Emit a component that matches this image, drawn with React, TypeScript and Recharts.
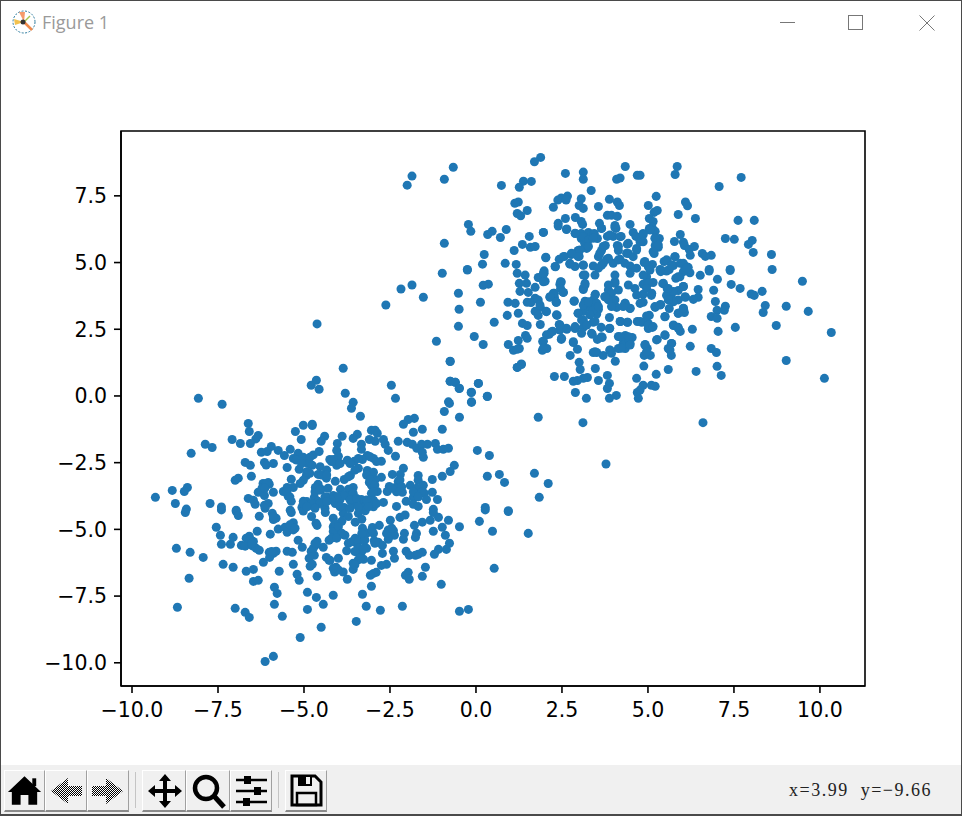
import React from 'react';
import { ScatterChart, Scatter, XAxis, YAxis, ZAxis, ReferenceArea } from 'recharts';

// points, [x, y]
const upperCluster: [number, number][] = [
  [1.88,8.94],[1.70,8.78],[-0.66,8.57],[-0.92,8.12],[4.34,8.60],[2.60,8.34],[3.12,8.39],[3.12,8.12],[4.69,8.27],[4.19,8.17],
  [4.09,8.12],[0.74,7.89],[1.38,8.05],[1.61,8.04],[1.26,7.82],[3.35,7.70],[2.66,7.49],[2.48,7.42],[2.38,7.34],[2.62,7.34],
  [3.06,7.39],[3.88,7.37],[4.11,7.27],[4.17,7.14],[1.23,7.27],[1.13,7.22],[2.25,7.07],[3.0,7.14],[3.12,7.03],[3.56,7.10],
  [1.49,6.95],[1.20,6.84],[1.30,6.75],[2.39,6.47],[2.60,6.65],[2.89,6.69],[3.06,6.54],[3.10,6.43],[3.82,6.77],[3.94,6.77],
  [4.11,6.73],[-0.22,6.43],[-0.15,6.17],[3.59,6.47],[3.65,6.28],[4.04,6.39],[4.07,6.28],[4.48,6.43],[0.88,6.24],[0.47,6.17],
  [0.34,6.05],[0.71,5.94],[1.96,6.13],[2.63,6.24],[2.89,6.09],[3.06,6.09],[3.27,6.13],[3.44,6.09],[3.53,5.90],[3.06,5.90],
  [1.55,5.98],[3.82,5.98],[3.99,5.98],[4.22,5.98],[4.57,6.13],[4.65,5.98],[-0.92,5.72],[1.35,5.68],[1.58,5.57],[1.72,5.60],
  [1.11,5.45],[0.24,5.30],[3.16,5.72],[3.22,5.53],[3.76,5.64],[3.65,5.45],[4.11,5.64],[4.14,5.45],[4.40,5.69],[4.67,5.53],
  [2.97,5.45],[4.43,5.34],[2.03,5.18],[2.42,5.12],[2.57,5.23],[2.77,5.30],[3.0,5.23],[3.56,5.22],[4.57,5.22],[0.19,4.94],
  [0.85,4.97],[1.17,4.93],[-0.25,4.74],[2.31,4.84],[2.73,4.94],[3.12,4.90],[3.41,4.87],[3.80,5.12],[4.19,5.12],[3.65,4.90],
  [3.99,4.97],[4.48,4.87],[1.98,4.69],
  [5.85,8.60],[5.79,8.30],[7.71,8.19],[7.07,7.85],[4.77,8.27],[5.24,7.48],[5.01,7.14],[6.09,7.27],[6.15,7.13],[5.27,6.95],
  [5.18,6.88],[5.88,6.80],[6.38,6.65],[5.04,6.65],[5.15,6.54],[7.62,6.58],[8.09,6.58],[5.12,6.32],[5.04,6.28],[5.21,6.17],
  [4.86,6.09],[5.94,6.05],[5.33,5.90],[7.25,5.90],[7.51,5.87],[5.77,5.79],[6.03,5.76],[8.03,5.83],[7.92,5.68],[4.86,5.78],
  [6.06,5.64],[6.35,5.60],[5.30,5.57],[5.21,5.64],[6.20,5.49],[8.06,5.38],[8.59,5.30],[5.18,5.34],[6.58,5.34],[6.84,5.27],
  [6.67,5.23],[6.23,5.27],[5.79,5.22],[5.56,5.08],[5.47,5.04],[4.89,5.0],[5.13,4.93],[5.74,4.89],[5.94,4.97],[6.06,4.89],
  [6.17,4.82],[5.36,4.74],[6.78,4.74],[7.39,4.74],[8.61,4.74],[5.62,4.74],[5.01,4.84],
  [-0.98,4.60],[-0.25,4.72],[1.20,4.60],[1.43,4.53],[1.81,4.44],[1.98,4.60],[3.12,4.53],[2.01,4.30],[0.36,4.19],[0.21,4.15],
  [1.26,4.22],[1.47,4.22],[1.72,4.07],[2.48,4.27],[2.44,4.19],[3.17,4.16],[3.12,3.99],[-0.51,3.85],[-1.53,3.70],[1.28,3.92],
  [1.52,3.88],[2.54,3.88],[2.28,3.85],[2.15,3.70],[2.28,3.70],[3.47,3.81],[3.75,3.72],[3.85,3.97],[4.04,4.28],[1.72,3.66],
  [0.13,3.51],[0.93,3.51],[1.14,3.47],[1.49,3.51],[1.60,3.50],[1.81,3.60],[2.33,3.51],[2.85,3.55],[3.17,3.55],[3.41,3.60],
  [3.51,3.47],[3.94,3.66],[3.99,3.47],[4.34,3.47],[4.48,3.28],[-0.49,3.25],[1.87,3.32],[2.04,3.17],[1.72,3.17],[1.81,3.02],
  [0.91,3.02],[1.23,3.10],[2.36,3.02],[2.97,3.10],[3.12,3.17],[3.31,3.32],[3.56,3.25],[3.51,3.07],[4.09,3.32],[3.88,2.94],
  [0.53,2.76],[1.35,2.72],[1.49,2.64],[1.87,2.68],[-0.51,2.61],[2.42,2.68],[3.12,2.85],[3.41,2.76],[4.20,2.79],[4.40,2.76],
  [4.69,2.79],[3.88,2.53],[3.64,2.57],[3.12,2.57],[2.88,2.53],[2.64,2.50],[2.44,2.47],[2.23,2.42],[2.13,2.31],[2.48,2.12],
  [-0.05,2.23],[1.44,2.27],[1.49,2.16],[3.38,2.31],[3.53,2.12],[3.67,2.19],[4.14,2.23],[4.34,2.27],[4.54,2.19],[-1.15,2.05],
  [0.21,1.93],[1.23,2.08],[0.94,1.93],[1.96,2.05],[2.83,2.0],[4.28,1.97],[4.48,1.97],[4.43,2.16],[1.26,1.78],[1.09,1.71],
  [1.20,1.75],[2.06,1.78],[1.93,1.71],[2.95,1.75],[3.41,1.63],[3.51,1.63],[3.70,1.52],[3.90,1.71],[3.94,1.60],[4.14,1.78],
  [4.34,1.78],[2.74,1.52],[-0.75,1.30],[3.0,1.26],[4.05,1.30],[1.32,1.18],[1.20,1.07],[3.03,0.99],[3.47,1.03],[2.28,0.73],
  [2.57,0.73],[3.82,0.77],[4.67,0.66],[3.24,0.69],[3.12,0.66],[2.95,0.58],[2.83,0.55],[3.56,0.58],[-0.75,0.55],[-0.6,0.51],
  [0.07,0.47],[-0.49,0.28],[3.88,0.47],[3.82,0.28],[-0.14,0.13],[2.89,0.13],[0.33,-0.02],[4.08,0.02],[4.69,0.13],[3.88,-0.09],
  [3.21,-0.09],[4.72,-0.09],[-0.8,-0.22],[-0.13,-0.22],
  [5.37,4.66],[5.54,4.68],[5.93,4.47],[5.81,4.41],[6.22,4.62],[6.03,4.66],[6.52,4.52],[6.78,4.68],[7.02,4.37],[7.39,4.70],
  [9.49,4.30],[4.96,4.47],[5.01,4.25],[5.15,4.25],[4.86,4.19],[5.43,4.21],[5.56,4.02],[6.03,4.10],[5.88,3.95],[6.46,3.99],
  [6.91,3.96],[7.42,4.18],[7.68,4.03],[8.0,3.82],[8.09,3.77],[8.32,3.92],[4.86,3.81],[5.10,3.77],[5.54,3.77],[5.68,3.70],
  [5.88,3.60],[6.09,3.70],[6.46,3.70],[6.32,3.62],[5.74,3.53],[4.86,3.51],[6.96,3.54],[8.41,3.39],[9.02,3.36],[7.25,3.36],
  [5.37,3.43],[5.21,3.32],[5.62,3.28],[7.01,3.21],[7.22,3.21],[9.66,3.17],[8.35,3.13],[6.03,3.28],[6.06,3.13],[5.88,3.10],
  [5.04,3.02],[5.50,2.98],[6.84,2.98],[7.01,2.91],[8.73,2.64],[7.54,2.57],[5.74,2.64],[5.88,2.57],[5.94,2.42],[6.29,2.50],
  [4.82,2.76],[5.01,2.72],[5.01,2.53],[5.13,2.57],[7.04,2.42],[10.33,2.38],[5.50,2.27],[5.27,2.12],[4.92,1.93],[5.68,1.97],
  [4.98,1.78],[5.59,1.78],[6.23,1.86],[6.84,1.78],[6.99,1.63],[5.68,1.52],[5.07,1.52],[4.89,1.52],[9.02,1.33],[4.88,1.12],
  [7.01,1.11],[5.59,0.99],[6.40,0.92],[5.24,0.81],[7.13,0.77],[10.13,0.66],[5.10,0.40],[5.21,0.36],[4.86,0.40],[4.77,0.22],
];

// the crowded middle of the upper blob
const upperCore: [number, number][] = [
  [3.12,5.97],[3.27,5.85],[3.41,5.91],[3.27,5.60],[3.02,5.47],[2.78,5.35],[2.54,5.22],[2.97,5.22],[3.70,5.60],[3.60,5.35],
  [3.85,5.16],[4.14,5.60],[4.43,5.72],[4.67,5.47],[4.38,5.35],[3.89,6.03],[4.19,5.97],[4.77,5.78],[5.06,6.22],[5.20,5.91],
  [5.30,5.66],[5.15,5.41],[4.86,6.04],[5.54,5.10],[5.78,5.22],[6.03,4.97],[5.35,4.72],[5.69,4.91],[6.12,4.79],[5.88,4.47],
  [6.03,4.10],[4.91,5.04],[4.67,4.79],[5.06,4.72],[4.86,4.53],[4.48,4.60],[4.33,4.97],[4.14,5.10],[3.70,4.97],[3.56,4.79],
  [3.46,4.53],[3.12,4.91],[3.17,4.53],[2.88,4.85],[2.73,4.97],[4.04,4.53],[4.04,4.22],[3.85,4.16],[4.14,3.97],[3.94,3.85],
  [4.04,3.60],[3.85,3.60],[3.94,3.35],[3.75,3.72],[3.46,3.78],[3.12,4.03],[3.17,4.22],[4.43,4.16],[4.62,4.03],[4.67,3.78],
  [5.01,4.22],[4.96,4.03],[5.11,3.85],[4.77,3.47],[4.33,3.47],[4.48,3.29],[4.28,3.35],[3.12,3.41],[2.97,3.10],[3.07,2.85],
  [3.27,3.53],[3.41,3.22],[3.56,3.35],[3.31,3.04],[3.46,2.79],[3.22,2.66],[2.88,2.60],[2.63,2.54],[2.44,2.66],[3.07,2.35],
  [3.36,2.35],[3.65,2.22],[3.89,2.54],[4.19,2.79],[4.41,2.76],[4.77,2.79],[4.96,3.0],[5.01,2.66],[5.15,2.60],[4.19,2.22],
  [4.43,2.22],[4.48,1.91],[4.23,1.79],[3.89,1.72],[3.46,1.66],[4.91,1.91],[4.96,1.66],[5.74,2.66],[5.88,2.54],[5.49,2.29],
  [5.25,2.10],[5.69,1.97],[5.64,1.72],[5.49,2.97],[5.20,3.35],[5.35,3.41],[5.59,3.60],[5.88,3.10],[6.03,3.29],[5.74,3.91],
  [5.45,4.22],[5.59,4.03],[6.08,3.72],[2.30,4.85],[2.03,5.20],[1.96,4.60],[1.96,4.28],[2.46,4.28],[2.46,4.03],[2.54,3.88],
  [2.25,3.85],[2.15,3.72],[2.34,3.51],[2.86,3.56],[1.96,6.13],[2.39,6.37],[2.64,6.26],[2.88,6.10],[3.65,6.28],[4.04,6.31],
  [2.05,3.16],[2.34,3.04],[1.86,3.41],[2.20,2.41],[2.05,2.29],[2.49,2.16],[2.83,2.03],[1.94,2.04],[1.96,1.79],
];

const lowerCluster: [number, number][] = [
  [-4.64,0.59],[-4.79,0.40],[-4.56,0.25],[-8.07,-0.09],[-7.38,-0.31],[-6.62,-1.03],[-6.59,-1.33],[-5.02,-1.10],[-4.76,-1.06],[-4.76,-1.11],
  [-5.25,-1.33],[-5.08,-1.63],[-6.33,-1.48],[-6.40,-1.61],[-7.09,-1.63],[-6.85,-1.78],[-6.56,-1.78],[-7.87,-1.81],[-7.67,-1.93],[-8.28,-2.15],
  [-4.40,-1.51],[-4.50,-1.70],[-5.95,-1.89],[-6.07,-2.08],[-6.24,-2.11],[-5.75,-2.04],[-5.40,-2.0],[-5.57,-2.23],[-5.17,-2.15],[-5.31,-2.34],
  [-5.02,-2.30],[-4.73,-2.21],[-4.56,-2.08],[-4.83,-2.30],[-4.25,-2.38],[-6.71,-2.49],[-6.56,-2.60],[-6.15,-2.49],[-6.10,-2.59],[-5.89,-2.53],
  [-5.49,-2.68],[-5.14,-2.75],[-4.88,-2.53],[-4.76,-2.60],[-4.53,-2.65],[-4.34,-2.78],[-4.83,-2.90],[-4.93,-2.98],[-4.59,-2.94],[-4.35,-3.08],
  [-6.53,-3.01],[-6.91,-3.08],[-7.0,-3.16],[-5.37,-3.12],[-5.02,-3.16],[-5.11,-3.28],[-6.19,-3.28],[-6.04,-3.24],[-6.01,-3.31],[-6.22,-3.46],
  [-4.59,-3.31],[-4.67,-3.43],[-4.50,-3.50],[-4.30,-3.46],[-5.31,-3.43],[-5.49,-3.43],[-5.60,-3.58],[-6.33,-3.61],[-5.89,-3.61],[-6.15,-3.73],
  [-8.39,-3.43],[-8.48,-3.58],[-8.83,-3.54],[-9.32,-3.80],[-5.46,-3.76],[-5.37,-3.95],[-6.62,-3.84],[-6.47,-3.91],[-6.42,-4.06],[-8.74,-4.03],
  [-7.73,-4.03],[-7.40,-4.16],[-8.42,-4.24],[-6.97,-4.28],[-6.04,-4.03],[-6.15,-4.10],[-6.13,-4.21],[-5.02,-3.95],[-4.70,-3.80],[-4.92,-3.96],
  [-4.59,-3.95],[-4.44,-4.03],[-4.32,-3.80],[-4.88,-4.13],[-5.06,-4.18],[-5.40,-4.28],[-4.39,-4.21],
  [-3.86,1.04],[-0.75,1.29],[1.32,1.2],[1.20,1.07],[-2.46,0.40],[-0.75,0.55],[-0.60,0.51],[-0.48,0.29],[0.07,0.47],[-0.13,0.14],
  [0.33,-0.01],[-3.80,0.10],[-2.34,-0.09],[-0.13,-0.24],[-3.57,-0.24],[-0.77,-0.28],[-3.62,-0.46],[-0.92,-0.58],[-3.36,-0.76],[-0.48,-0.80],
  [1.81,-0.80],[-1.79,-0.84],[-1.97,-0.88],[-2.11,-1.06],[-1.82,-1.36],[-1.56,-1.25],[-0.98,-1.25],[-3.04,-1.29],[-2.93,-1.29],[-2.87,-1.40],
  [-3.45,-1.44],[-3.57,-1.59],[-3.89,-1.51],[-3.10,-1.63],[-2.93,-1.70],[-2.69,-1.63],[-2.64,-1.81],[-2.26,-1.70],[-2.0,-1.74],[-1.85,-1.81],
  [-1.72,-1.96],[-1.58,-1.81],[-1.41,-1.81],[-1.18,-1.78],[-1.12,-2.0],[-0.95,-2.0],[-0.80,-1.96],[-4.03,-1.78],[-3.33,-1.81],[-3.33,-2.0],
  [-4.05,-2.04],[-2.55,-2.04],[0.04,-2.04],[-1.56,-2.11],[-1.53,-2.30],[0.39,-2.23],[-2.34,-2.26],[-4.0,-2.26],[-3.16,-2.23],[-2.98,-2.34],
  [-2.75,-2.45],[-3.74,-2.41],[-3.54,-2.45],[-3.30,-2.38],[-4.15,-2.38],[-4.05,-2.60],[-0.63,-2.60],[-0.75,-2.83],[-2.11,-2.71],[-3.42,-2.71],
  [-3.16,-2.79],[-2.98,-2.86],[-2.43,-2.94],[-2.20,-2.94],[-1.68,-2.98],[-0.98,-3.01],[0.33,-3.01],[0.68,-2.94],[1.70,-2.90],[0.83,-3.24],
  [-1.27,-3.13],[-3.65,-2.98],[-3.83,-3.13],[-4.09,-3.20],[-2.75,-3.05],[-3.10,-3.24],[-2.93,-3.13],[-2.26,-3.20],[-1.91,-3.35],[-1.68,-3.16],
  [-1.53,-3.35],[2.10,-3.28],[-3.57,-3.43],[-3.94,-3.50],[-3.71,-3.50],[-3.04,-3.35],[-2.52,-3.39],[-2.34,-3.43],[-2.58,-3.58],[-3.04,-3.65],
  [-2.87,-3.58],[-2.14,-3.61],[-1.50,-3.65],[-1.27,-3.61],[1.84,-3.80],[-3.74,-3.76],[-4.15,-3.73],[-3.95,-3.88],[-3.33,-3.88],[-1.82,-3.80],
  [-1.68,-3.78],[-1.44,-3.88],[-1.12,-3.88],[-2.03,-3.95],[-2.69,-3.99],[-2.98,-3.91],[-3.54,-4.03],[-4.09,-4.03],[-2.31,-4.14],[-1.82,-4.06],
  [-1.68,-4.14],[0.27,-4.18],[0.94,-4.30],[-1.24,-4.25],[-3.83,-4.18],[-3.27,-4.15],[-2.98,-4.15],
  [-8.45,-4.37],[-7.40,-4.27],[-6.97,-4.33],[-6.91,-4.48],[-6.30,-4.51],[-5.92,-4.40],[-5.89,-4.63],[-5.81,-4.58],[-5.37,-4.37],[-5.02,-4.31],
  [-4.78,-4.52],[-4.38,-4.37],[-5.31,-4.75],[-7.55,-4.92],[-5.75,-4.99],[-5.55,-4.92],[-5.49,-5.11],[-5.31,-5.02],[-4.65,-4.77],[-4.62,-4.85],
  [-6.36,-5.07],[-5.98,-5.18],[-7.43,-5.22],[-7.06,-5.30],[-6.59,-5.26],[-6.68,-5.33],[-6.47,-5.45],[-5.17,-5.41],[-4.27,-5.41],[-4.62,-5.45],
  [-7.40,-5.56],[-7.14,-5.56],[-6.82,-5.60],[-6.71,-5.63],[-6.50,-5.62],[-6.39,-5.71],[-6.30,-5.78],[-5.05,-5.67],[-4.44,-5.67],[-4.67,-5.60],
  [-8.71,-5.71],[-8.31,-5.86],[-7.93,-6.05],[-6.01,-5.86],[-5.81,-5.82],[-5.89,-5.90],[-6.0,-6.05],[-5.49,-5.82],[-5.34,-5.86],[-4.79,-5.82],
  [-4.70,-5.97],[-4.85,-6.08],[-4.35,-6.05],[-4.27,-6.16],[-7.35,-6.31],[-7.06,-6.42],[-6.18,-6.23],[-5.31,-6.31],[-4.76,-6.31],[-4.82,-6.38],
  [-6.68,-6.57],[-6.47,-6.50],[-5.72,-6.57],[-8.34,-6.83],[-5.2,-6.68],[-5.14,-6.91],[-4.62,-6.76],[-6.47,-6.95],[-6.33,-6.91],[-5.86,-7.17],
  [-5.78,-7.40],[-4.90,-7.36],[-4.64,-7.55],[-4.44,-7.81],[-5.86,-7.81],[-4.90,-8.0],[-8.68,-7.92],[-7.0,-7.96],[-6.71,-8.11],[-6.59,-8.30],
  [-5.63,-8.26],[-4.50,-8.67],[-5.11,-9.05],[-5.89,-9.76],[-6.13,-9.95],
  [0.27,-4.27],[0.94,-4.33],[-3.86,-4.40],[-3.42,-4.40],[-3.71,-4.52],[-3.22,-4.30],[-3.32,-4.62],[-4.15,-4.58],[-3.90,-4.70],[-3.51,-4.73],
  [-2.49,-4.66],[-2.21,-4.55],[-2.06,-4.46],[-1.24,-4.37],[-1.09,-4.55],[-1.33,-4.66],[-1.56,-4.73],[-1.79,-4.85],[-0.80,-4.66],[-0.98,-4.92],
  [-0.48,-4.90],[0.10,-4.70],[0.48,-5.07],[1.52,-5.15],[-2.81,-4.85],[-3.01,-4.93],[-3.30,-4.96],[-4.15,-4.90],[-4.05,-5.05],[-1.24,-5.07],
  [-0.89,-5.22],[-2.55,-5.02],[-2.40,-5.05],[-2.52,-5.21],[-2.37,-5.22],[-2.08,-5.15],[-1.73,-5.15],[-1.76,-5.30],[-2.11,-5.37],[-2.55,-5.37],
  [-3.18,-5.15],[-2.98,-5.15],[-3.81,-5.22],[-4.0,-5.22],[-3.51,-5.33],[-3.27,-5.33],[-2.96,-5.42],[-2.84,-5.48],[-2.72,-5.60],[-0.77,-5.52],
  [-0.86,-5.75],[-1.09,-5.75],[-1.21,-5.93],[-3.71,-5.52],[-3.47,-5.52],[-3.18,-5.71],[-3.76,-5.80],[-3.47,-5.83],[-3.32,-5.83],[-2.40,-5.82],
  [-2.72,-5.90],[-2.37,-6.08],[-2.03,-5.82],[-1.94,-5.97],[-1.76,-5.97],[-1.56,-5.86],[-1.68,-5.93],[-4.0,-6.08],[-4.24,-6.16],[-3.27,-6.12],
  [-3.04,-6.16],[-3.42,-6.14],[-3.57,-6.27],[-2.60,-6.31],[-2.75,-6.35],[-1.47,-6.42],[0.53,-6.46],[-4.07,-6.42],[-4.11,-6.6],[-3.86,-6.6],
  [-3.57,-6.5],[-2.90,-6.61],[-2.98,-6.65],[-3.07,-6.72],[-1.97,-6.61],[-2.05,-6.72],[-1.94,-6.87],[-1.56,-6.76],[-3.74,-6.87],[-1.01,-7.06],
  [-3.04,-7.13],[-4.15,-7.47],[-3.30,-7.43],[-3.19,-7.88],[-2.78,-8.03],[-2.14,-7.88],[-0.48,-8.07],[-0.22,-8.0],[-3.48,-8.45],
];

// the crowded middle of the lower blob
const lowerCore: [number, number][] = [
  [-4.20,-2.46],[-3.95,-2.53],[-3.42,-2.34],[-3.66,-2.53],[-3.08,-2.28],[-2.89,-2.46],[-3.52,-2.78],[-3.71,-3.03],[-3.18,-2.96],[-3.08,-3.15],
  [-2.94,-3.34],[-2.98,-3.59],[-2.21,-3.15],[-2.16,-3.40],[-2.31,-3.59],[-2.45,-3.46],[-1.72,-3.46],[-1.58,-3.59],[-1.82,-3.59],[-1.68,-3.78],
  [-3.57,-3.65],[-3.86,-3.71],[-4.05,-3.78],[-4.20,-3.90],[-3.66,-3.90],[-3.47,-3.84],[-3.18,-3.90],[-2.89,-4.03],[-3.95,-4.15],[-3.66,-4.21],
  [-3.42,-4.15],[-3.13,-4.15],[-4.10,-4.77],[-4.15,-5.08],[-4.0,-4.90],[-3.90,-5.15],[-4.2,-5.33],[-4.05,-5.33],[-3.61,-5.46],[-3.42,-5.46],
  [-3.23,-5.40],[-3.42,-5.71],[-3.27,-5.71],[-3.52,-5.83],[-2.94,-5.52],[-2.6,-5.15],[-2.45,-4.96],[-3.32,-5.15],[-3.03,-5.02],[-3.37,-6.08],
  [-3.52,-6.33],[-4.0,-6.52],[-4.15,-6.46],[-5.22,-2.40],[-5.07,-2.53],[-4.92,-2.84],[-4.49,-2.96],[-4.34,-2.96],[-4.68,-3.59],[-4.54,-3.53],
  [-4.39,-3.78],[-5.02,-4.03],[-4.78,-4.03],[-4.54,-4.03],[-4.34,-3.96],[-6.09,-3.28],[-6.14,-3.46],[-5.50,-3.59],[-5.41,-3.78],[-4.92,-4.15],
  [-4.68,-4.21],[-5.89,-4.52],[-5.41,-4.83],[-5.26,-4.96],[-4.78,-5.83],[-4.73,-5.71],[-4.68,-5.52],[-6.57,-5.40],[-6.52,-5.52],[-5.94,-5.83],
];

// lone points between and around the blobs
const stragglers: [number, number][] = [
  [-2.0,7.9],[-1.86,8.24],[-2.62,3.41],[-2.18,4.01],[-1.86,4.16],[-4.62,2.70],[3.78,-2.55],[6.6,-1.0],[3.11,-1.0],
];

const xTicks = [-10, -7.5, -5, -2.5, 0, 2.5, 5, 7.5, 10];
const yTicks = [-10, -7.5, -5, -2.5, 0, 2.5, 5, 7.5];
const xDomain: [number, number] = [-10.32, 11.31];
const yDomain: [number, number] = [-10.87, 9.93];

const points = [...upperCluster, ...upperCore, ...lowerCluster, ...lowerCore, ...stragglers].map(([x, y]) => ({ x, y }));

const formatTick = (v: number) => (v < 0 ? '\u2212' : '') + Math.abs(v).toFixed(1);

const tickFont = { fontFamily: 'DejaVu Sans', fontSize: 20.5, fill: '#000' };
const axisStroke = { stroke: '#000', strokeWidth: 1.6 };

// toolbar buttons, left edge and width
const Btn = ({ x, w, children }: { x: number; w: number; children: React.ReactNode }) => (
  <div style={{ position: 'absolute', left: x, top: 770, width: w, height: 42, background: '#f0f0f0', boxSizing: 'border-box',
    borderTop: '1px solid #fff', borderLeft: '1px solid #fff', borderRight: '1px solid #a0a0a0', borderBottom: '2px solid #8a8a8a' }}>
    <svg width={w - 2} height={39} viewBox="0 0 40 39" style={{ display: 'block' }}>{children}</svg>
  </div>
);

const Sep = ({ x }: { x: number }) => (
  <div style={{ position: 'absolute', left: x, top: 772, width: 1, height: 36, background: '#c4c4c4' }} />
);

const checker = (
  <pattern id="chk" width="2" height="2" patternUnits="userSpaceOnUse">
    <rect width="2" height="2" fill="#fff" />
    <rect width="1" height="1" fill="#000" />
    <rect x="1" y="1" width="1" height="1" fill="#000" />
  </pattern>
);

export default function App() {
  return (
    <div style={{ position: 'absolute', left: 0, top: 0, width: 962, height: 816, background: '#fff', overflow: 'hidden' }}>
      <ScatterChart width={962} height={816} margin={{ top: 131, right: 97, bottom: 90, left: 51 }}>
        <XAxis type="number" dataKey="x" domain={xDomain} ticks={xTicks} interval={0} height={40}
          tick={tickFont} tickFormatter={formatTick} tickSize={7} tickMargin={9} tickLine={axisStroke} axisLine={axisStroke} allowDataOverflow />
        <YAxis type="number" dataKey="y" domain={yDomain} ticks={yTicks} interval={0} width={70}
          tick={tickFont} tickFormatter={formatTick} tickSize={7} tickMargin={7} tickLine={axisStroke} axisLine={axisStroke} allowDataOverflow />
        <ZAxis range={[63, 63]} />
        <ReferenceArea x1={xDomain[0]} x2={xDomain[1]} y1={yDomain[0]} y2={yDomain[1]} fill="none" stroke="#000" strokeWidth={1.6} />
        <Scatter data={points} fill="#1f77b4" isAnimationActive={false} />
      </ScatterChart>

      {/* window frame */}
      <div style={{ position: 'absolute', inset: 0, border: '1px solid #4a4a4a', borderBottomWidth: 2, pointerEvents: 'none' }} />

      {/* title bar */}
      <svg width={26} height={26} style={{ position: 'absolute', left: 11, top: 9 }}>
        <circle cx={13} cy={13} r={11} fill="#fff" stroke="#2b7a9e" strokeDasharray="2 1.5" />
        <path d="M13 13 L8 3 L14 3 Z" fill="#f59a6a" />
        <path d="M13 13 L3 10 L4 16 Z" fill="#f2c14e" />
        <path d="M13 13 L21 21" stroke="#f08a4b" strokeWidth={2.5} />
        <path d="M13 13 L19 7" stroke="#a8c64a" strokeWidth={1.5} />
        <circle cx={12} cy={13} r={2.5} fill="#333" />
      </svg>
      <div style={{ position: 'absolute', left: 42, top: 9, fontFamily: 'Open Sans', fontSize: 18, lineHeight: '26px', color: '#9a9a9a' }}>Figure 1</div>
      <div style={{ position: 'absolute', left: 780, top: 22, width: 15, height: 1, background: '#777' }} />
      <div style={{ position: 'absolute', left: 848, top: 15, width: 13, height: 13, border: '1px solid #777' }} />
      <svg width={16} height={16} style={{ position: 'absolute', left: 919, top: 15 }}>
        <path d="M0.5 0.5 L15.5 15.5 M15.5 0.5 L0.5 15.5" stroke="#777" />
      </svg>

      {/* toolbar */}
      <div style={{ position: 'absolute', left: 1, top: 765, width: 960, height: 49, background: '#f0f0f0' }} />
      <Btn x={4} w={41}>
        <path d="M20 5 L37 21 L33 21 L33 34 L24 34 L24 24 L16 24 L16 34 L7 34 L7 21 L3 21 Z" fill="#000" />
        <rect x="28" y="7" width="4" height="8" fill="#000" />
      </Btn>
      <Btn x={45} w={42}>
        <defs>{checker}</defs>
        <path d="M22 7 L5 20 L22 33 L22 25 L36 25 L36 15 L22 15 Z" fill="url(#chk)" />
      </Btn>
      <Btn x={87} w={42}>
        <path d="M18 7 L35 20 L18 33 L18 25 L4 25 L4 15 L18 15 Z" fill="url(#chk)" />
      </Btn>
      <Sep x={135} />
      <Btn x={142} w={44}>
        <path d="M21 3 L27 10 L23 10 L23 18 L31 18 L31 14 L38 20 L31 26 L31 22 L23 22 L23 30 L27 30 L21 37 L15 30 L19 30 L19 22 L11 22 L11 26 L4 20 L11 14 L11 18 L19 18 L19 10 L15 10 Z" fill="#000" />
      </Btn>
      <Btn x={186} w={44}>
        <circle cx="18" cy="17" r="11" fill="none" stroke="#000" strokeWidth="4.5" />
        <path d="M26 25 L36 36" stroke="#000" strokeWidth="5" />
      </Btn>
      <Btn x={230} w={42}>
        <path d="M5 9 H36 M5 20 H36 M5 31 H36" stroke="#000" strokeWidth="2.5" />
        <rect x="13" y="5" width="7" height="8" fill="#000" />
        <rect x="23" y="16" width="7" height="8" fill="#000" />
        <rect x="12" y="27" width="7" height="8" fill="#000" />
      </Btn>
      <Sep x={278} />
      <Btn x={285} w={42}>
        <path d="M6 5 H29 L35 11 V34 H6 Z" fill="none" stroke="#000" strokeWidth="3" />
        <rect x="12" y="5" width="14" height="10" fill="#000" />
        <rect x="20" y="6" width="4" height="7" fill="#f0f0f0" />
        <rect x="11" y="22" width="19" height="12" fill="none" stroke="#000" strokeWidth="2.5" />
      </Btn>
      <div style={{ position: 'absolute', left: 789, top: 779, fontFamily: 'Liberation Serif', fontSize: 18, lineHeight: '22px', letterSpacing: 1.5, whiteSpace: 'pre', color: '#222' }}>
        {'x=3.99  y=\u22129.66'}
      </div>
    </div>
  );
}
